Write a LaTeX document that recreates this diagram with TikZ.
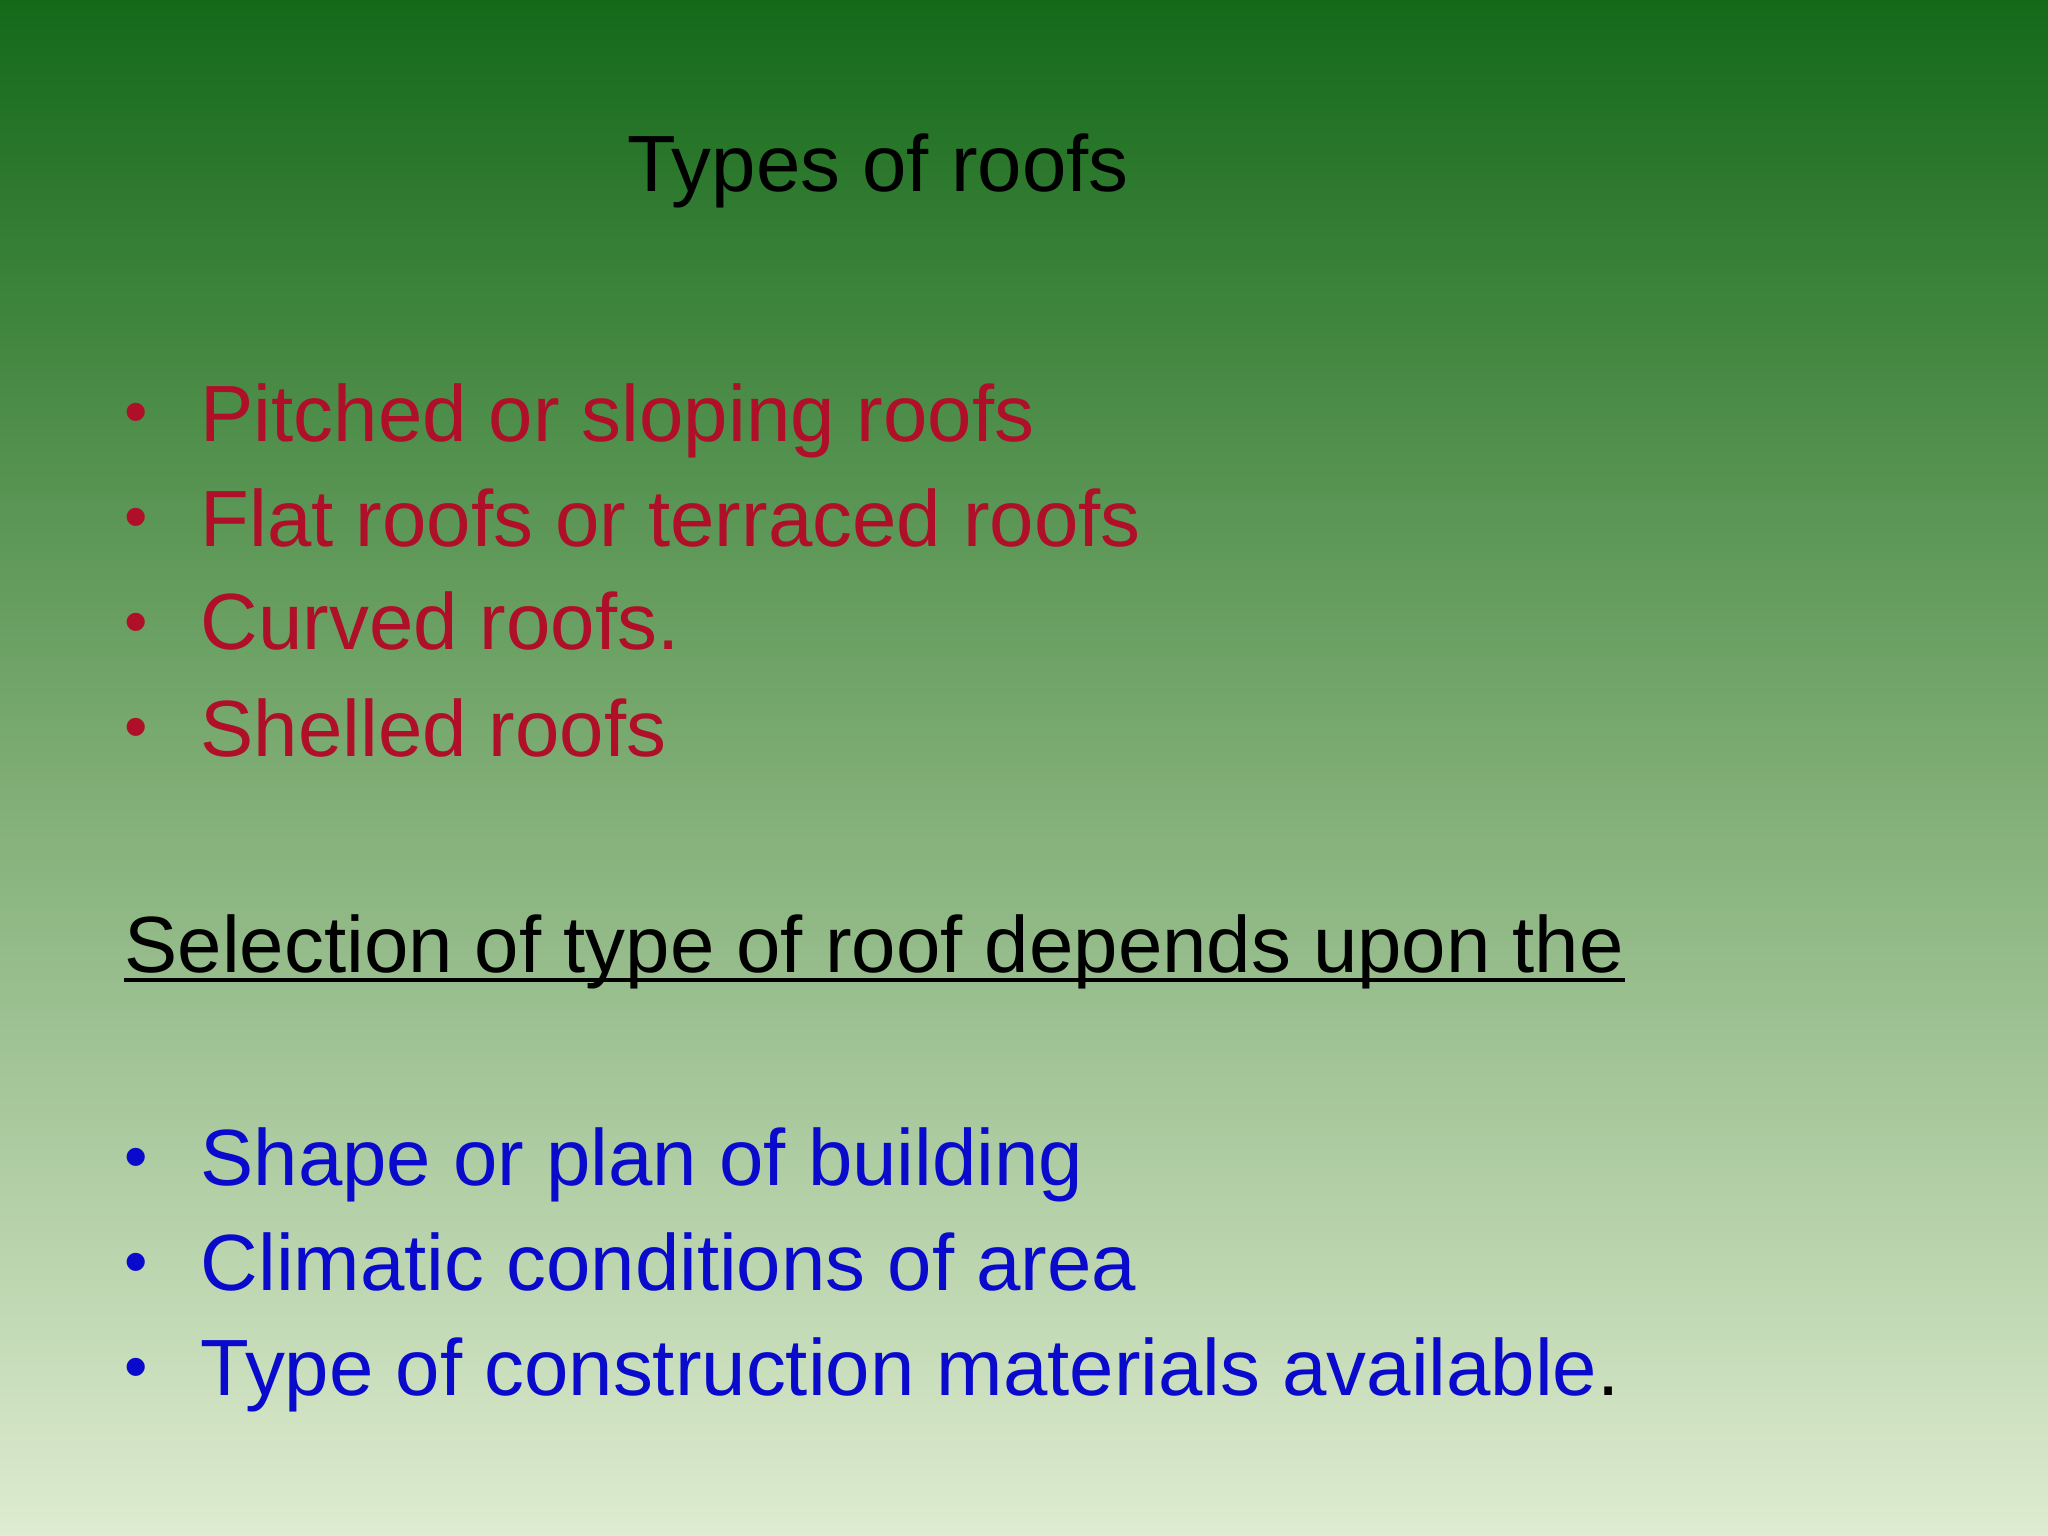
\documentclass[tikz,border=0pt]{standalone}
\usepackage{fontspec}
\setmainfont{Liberation Sans}
\definecolor{gtop}{RGB}{20,105,25}
\definecolor{gmid}{RGB}{125,172,115}
\definecolor{gbot}{RGB}{222,236,208}
\definecolor{redtxt}{RGB}{175,15,40}
\definecolor{bluetxt}{RGB}{10,10,205}
\tikzset{
  txt/.style={anchor=base west,inner sep=0pt,font=\fontsize{22.7}{27}\selectfont},
  bul/.style={anchor=base west,inner sep=0pt,font=\fontsize{19}{27}\selectfont}
}
\begin{document}
\begin{tikzpicture}[x=1cm,y=-1cm]
\shade[top color=gtop,bottom color=gbot,middle color=gmid] (0,0) rectangle (20.48,15.36);
\useasboundingbox (0,0) rectangle (20.48,15.36);
\node[txt,anchor=base] (title) at (8.78,1.92) {Types of roofs};
\foreach \y/\t [count=\i] in {4.41/Pitched or sloping roofs,5.46/Flat roofs or terraced roofs,6.50/Curved roofs.,7.56/Shelled roofs}{
  \node[bul,text=redtxt] (rb\i) at (1.24,\y-0.06) {•};
  \node[txt,text=redtxt] (r\i) at (2.0,\y) {\t};
}
\node[txt] (sel) at (1.24,9.73) {Selection of type of roof depends upon the};
\draw[line width=1.2pt] ([yshift=-0.07cm]sel.base west) -- ([yshift=-0.07cm]sel.base east);
\node[bul,text=bluetxt] (bb1) at (1.24,11.79) {•};
\node[txt,text=bluetxt] (b1) at (2.0,11.85) {Shape or plan of building};
\node[bul,text=bluetxt] (bb2) at (1.24,12.84) {•};
\node[txt,text=bluetxt] (b2) at (2.0,12.90) {Climatic conditions of area};
\node[bul,text=bluetxt] (bb3) at (1.24,13.89) {•};
\node[txt,text=bluetxt] (b3) at (2.0,13.95) {Type of construction materials available\textcolor{black}{.}};
\end{tikzpicture}
\end{document}
